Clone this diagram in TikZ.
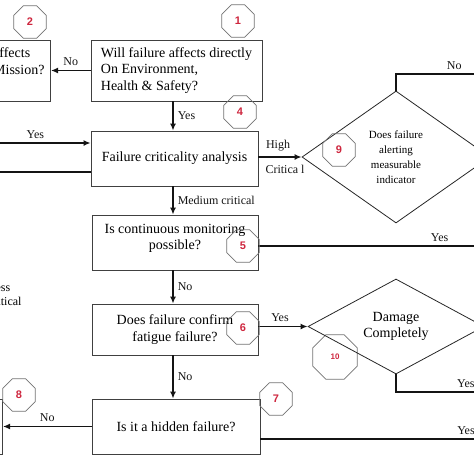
\documentclass[tikz,border=0pt]{standalone}
\usepackage{fontspec}
\setmainfont{Liberation Serif}
\newfontfamily\numfont{Liberation Sans}
\usepackage{xcolor}
\usepackage{tikz}
\usetikzlibrary{positioning, calc, arrows.meta, shapes.geometric}
\definecolor{flagred}{RGB}{206, 38, 62}
\definecolor{lineblack}{RGB}{20, 20, 20}
\newcommand{\qfont}{\fontsize{14}{16.5}\selectfont}
\newcommand{\lblfont}{\fontsize{12}{14}\selectfont}
\newcommand{\dfont}{\fontsize{11}{15}\selectfont}
\tikzset{
    boxnode/.style={
        draw=black!75, line width=0.8pt, inner sep=0pt, font=\qfont
    },
    decnode/.style={
        diamond, draw=black!85, line width=0.8pt, inner sep=0pt, align=center
    },
    flagnode/.style={
        regular polygon, regular polygon sides=8, draw=black!55, line width=0.8pt,
        minimum size=35pt, inner sep=0pt, text=flagred,
        font=\numfont\bfseries\fontsize{11}{11}\selectfont
    },
    ptr/.style={
        -{Latex[length=7pt,width=6pt]}, line width=1.5pt, lineblack
    },
    wire/.style={
        line width=1.5pt, lineblack
    },
    labelptr/.style={
        font=\lblfont, inner sep=0pt
    }
}

\begin{document}
\begin{tikzpicture}[x=1pt, y=-1pt]
    \useasboundingbox (0,0) rectangle (474,474);
    \clip (0,0) rectangle (474,474);
    \coordinate (spine) at (173,0);

    % Các ô câu hỏi
    \node[boxnode, minimum width=171pt, minimum height=61pt, align=left] (q1) at (176.5,70.5)
        {Will failure affects directly\\On Environment,\\Health \& Safety?};
    \node[boxnode, minimum width=100pt, minimum height=61pt, anchor=east] (q2) at (51,70.5) {};
    \node[font=\qfont, inner sep=0pt, anchor=west, align=left] (q2text) at (-7,61) {affects\\Mission?};
    \node[boxnode, minimum width=167pt, minimum height=55pt] (q3) at (174.5,158.5) {Failure criticality analysis};
    \node[boxnode, minimum width=166pt, minimum height=55pt, align=center] (q5) at (175,242.5)
        {Is continuous monitoring\\possible?\\[-5pt]};
    \node[boxnode, minimum width=166pt, minimum height=51pt, align=center] (q6) at (175,329.5)
        {Does failure confirm\\fatigue failure?};
    \node[boxnode, minimum width=168pt, minimum height=55pt] (q7) at (176,426.5) {Is it a hidden failure?};
    \node[boxnode, minimum width=100pt, minimum height=55pt, anchor=east] (q8) at (3,426.5) {};
    \node[font=\lblfont, inner sep=0pt, anchor=west, align=left] (lesstext) at (-12,295) {Less\\critical};

    % Các ô quyết định
    \node[decnode, minimum width=188pt, minimum height=132pt, font=\dfont] (d9) at (396,157)
        {Does failure\\alerting\\measurable\\indicator};
    \node[flagnode, minimum size=48pt, font=\numfont\bfseries\fontsize{8}{8}\selectfont] (f10) at (335,357) {10};
    \node[decnode, minimum width=176pt, minimum height=95pt, font=\qfont] (d10) at (396,326.5) {Damage\\Completely};

    % Các mũi tên
    \draw[ptr] (q1.west) -- (q2.east) node[labelptr, midway, above=4pt] {No};
    \draw[ptr] (q1.south -| spine) -- (q3.north -| spine) node[labelptr, midway, right=4pt] {Yes};
    \coordinate (lin) at (-20,143);
    \draw[ptr] (lin) -- (lin -| q3.west) node[labelptr, midway, above=4pt] {Yes};
    \coordinate (lout) at (-20,172);
    \draw[wire] (q3.west |- lout) -- (lout);
    \draw[ptr] (q3.east |- d9.west) -- (d9.west)
        node[labelptr, midway, above=5pt, xshift=-2pt] {High}
        node[labelptr, midway, below=7pt, xshift=5pt] {Critica l};
    \coordinate (n9) at (500,74);
    \draw[wire] (d9.north) |- (n9) node[labelptr, pos=0.78, above=4pt] {No};
    \draw[ptr] (q3.south -| spine) -- (q5.north -| spine) node[labelptr, midway, right=4pt] {Medium critical};
    \coordinate (y5) at (500,246);
    \draw[wire] (q5.east |- y5) -- (y5) node[labelptr, pos=0.75, above=4pt] {Yes};
    \draw[ptr] (q5.south -| spine) -- (q6.north -| spine) node[labelptr, midway, right=4pt] {No};
    \draw[ptr] (q6.east |- d10.west) -- (d10.west) node[labelptr, midway, above=4pt, xshift=-3pt] {Yes};
    \coordinate (y10) at (500,392);
    \draw[wire] (d10.south) |- (y10) node[labelptr, pos=0.836, above=4pt] {Yes};
    \draw[ptr] (q6.south -| spine) -- (q7.north -| spine) node[labelptr, midway, right=4pt] {No};
    \coordinate (y7) at (500,439);
    \draw[wire] (q7.east |- y7) -- (y7) node[labelptr, pos=0.858, above=4pt] {Yes};
    \draw[ptr] (q7.west) -- (q8.east) node[labelptr, midway, above=4pt] {No};

    % Số thứ tự
    \node[flagnode] (f1) at (238,21) {1};
    \node[flagnode] (f2) at (30,22) {2};
    \node[flagnode] (f4) at (240,112) {4};
    \node[flagnode] (f5) at (243,246) {5};
    \node[flagnode] (f6) at (243,328) {6};
    \node[flagnode] (f7) at (276,399) {7};
    \node[flagnode] (f8) at (19,395) {8};
    \node[flagnode] (f9) at (339,150) {9};
\end{tikzpicture}
\end{document}
